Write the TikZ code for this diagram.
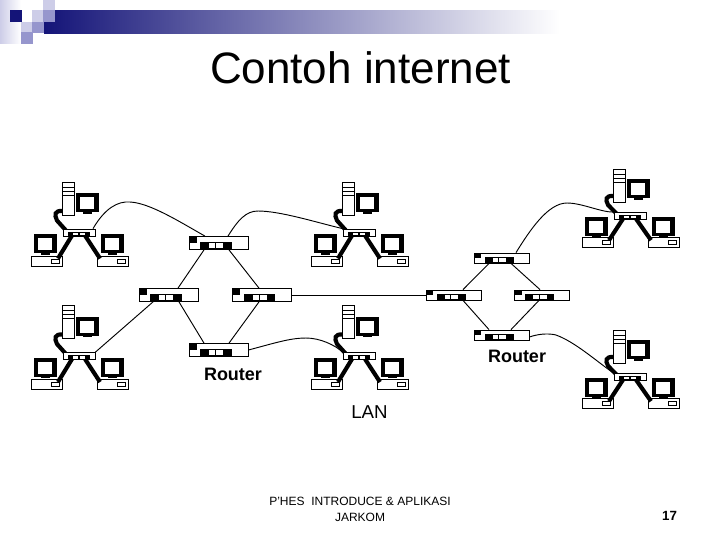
\documentclass[tikz,border=0pt]{standalone}
\usepackage{fontspec}
\setmainfont{Liberation Sans}
\usetikzlibrary{positioning}
\definecolor{barnavy}{RGB}{20,20,120}
\definecolor{barmid}{RGB}{160,160,188}
\definecolor{lavlight}{RGB}{205,205,232}
\definecolor{lavmid}{RGB}{150,150,205}
\tikzset{
routernode/.style={draw, fill=white, rectangle, inner sep=0pt, line width=.6pt},
hubnode/.style={draw, fill=white, rectangle, inner sep=0pt, line width=.6pt, minimum width=24pt, minimum height=5.2pt},
wire/.style={line width=.7pt},
cable/.style={line width=3.1pt},
monitor/.pic={
  \fill (0,0) rectangle (23,19);
  \fill[white] (4,4) rectangle (18,16);
  \fill (7,19) rectangle (16,20.5);
},
tower/.pic={
  \draw[line width=.7pt, fill=white] (0,0) rectangle (12,33);
  \draw[line width=.5pt] (0,5) -- (12,5);
  \draw[line width=.5pt] (0,9) -- (12,9);
  \draw[line width=.5pt] (0,13) -- (12,13);
},
pcbase/.pic={
  \draw[line width=.6pt, fill=white] (0,0) rectangle (31,10);
  \draw[line width=.6pt] (20,3) rectangle (28,7);
}
}
\newcommand{\routerbox}[5]{
  \node[routernode, minimum width=#4*.75pt, minimum height=#5*.75pt] (#1) at (#2,#3) {};
  \fill (#1.north west) rectangle ++(.14*#4,.55*#5);
  \fill ([shift={(.2*#4,.46*#5)}]#1.north west) rectangle ++(.53*#4,.54*#5);
  \fill[white] ([shift={(.35*#4,.56*#5)}]#1.north west) rectangle ++(.1*#4,.34*#5);
  \fill[white] ([shift={(.47*#4,.56*#5)}]#1.north west) rectangle ++(.12*#4,.34*#5);
}
\newcommand{\lancluster}[4]{
  \begin{scope}[shift={(#2,#3)}, yscale=#4]
  \pic at (-17,-50.5) {tower};
  \pic at (-3,-39.5) {monitor};
  \pic at (-45,1.5) {monitor};
  \pic at (22,1.5) {monitor};
  \pic at (-48,23.5) {pcbase};
  \pic at (18,23.5) {pcbase};
  \draw[cable] (-17,-21.5) .. controls (-24,-22) and (-25,-18) .. (-22,-12) -- (-13,-2);
  \draw[cable] (-7,3) -- (-21,26);
  \draw[cable] (6,3) -- (21,26);
  \node[hubnode] (#1) at (0,0) {};
  \fill (-11,-1) rectangle (11,3.5);
  \fill[white] (-6,0) rectangle (-1,2.5);
  \fill[white] (1,0) rectangle (6,2.5);
  \end{scope}
}
\begin{document}
\begin{tikzpicture}[x=.75pt, y=-.75pt]
\useasboundingbox (0,0) rectangle (720,540);
%banner
\fill[left color=barnavy, middle color=barmid, right color=white] (44,10) rectangle (560,33);
\fill[left color=lavlight, right color=white] (0,0) rectangle (21,43);
\fill[lavlight] (43,0) rectangle (55,10);
\fill[barnavy] (10,10) rectangle (22,22);
\fill[lavlight] (32,10) rectangle (43,22);
\fill[lavmid] (43,10) rectangle (55,22);
\fill[lavlight] (21,22) rectangle (32,32);
\fill[lavmid] (32,22) rectangle (44,33);
\fill[lavmid] (21,32) rectangle (33,44);
%create nodes
\node[anchor=base] (title) at (360.5,83) {\fontsize{33}{40}\selectfont Contoh internet};
\foreach \name/\x/\y/\w/\h in {r1/218.5/243/59/13, r2/168.5/295/59/13, r3/262/295/59/13, r4/218.5/350/59/13,
  r5/501.5/258/55/10, r6/453.5/295/55/10, r7/542/295/55/10, r8/501.5/335/55/10}
  \routerbox{\name}{\x}{\y}{\w}{\h};
\foreach \name/\x/\y/\s in {c1/79/232.5/1, c2/359/232.5/1, c3/79/356/1, c4/359/356/1, c5/630/216/.93, c6/630/377/.93}
  \lancluster{\name}{\x}{\y}{\s};
\node (routerl) at (233,374) {\fontsize{13.5}{16}\selectfont\bfseries Router};
\node (routerr) at (517,356) {\fontsize{13.5}{16}\selectfont\bfseries Router};
\node (lan) at (369.5,412) {\fontsize{14}{17}\selectfont LAN};
\node[align=center] (footer) at (360,509.5) {\fontsize{9}{12}\selectfont P'HES~~INTRODUCE \& APLIKASI\\[-.3pt]\fontsize{9}{12}\selectfont JARKOM};
\node (page) at (669.5,516) {\fontsize{10}{12}\selectfont\bfseries 17};
%draw paths
\draw[wire] ([shift={(-14.5,0)}]r1.south) -- ([shift={(9.5,0)}]r2.north);
\draw[wire] ([shift={(10.5,0)}]r1.south) -- ([shift={(-3,0)}]r3.north);
\draw[wire] ([shift={(10.5,0)}]r2.south) -- ([shift={(-14.5,0)}]r4.north);
\draw[wire] ([shift={(-3,0)}]r3.south) -- ([shift={(10.5,0)}]r4.north);
\draw[wire] ([shift={(-12.5,0)}]r5.south) -- ([shift={(9.5,0)}]r6.north);
\draw[wire] ([shift={(9.5,0)}]r5.south) -- ([shift={(-2,0)}]r7.north);
\draw[wire] ([shift={(9.5,0)}]r6.south) -- ([shift={(-12.5,0)}]r8.north);
\draw[wire] ([shift={(-3,0)}]r7.south) -- ([shift={(9.5,0)}]r8.north);
\draw[wire] (r3.east) -- (r6.west);
\draw[wire] ([shift={(-15.5,0)}]r2.south) -- (c3.north east);

\draw[wire] ([shift={(14,0)}]c1.north) .. controls (105,208) and (118,201) .. (130,202)
  .. controls (150,203) and (180,222) .. ([shift={(-13.5,0)}]r1.north);
\draw[wire] ([shift={(9.5,0)}]r1.north) .. controls (238,220) and (246,211) .. (258,211)
  .. controls (280,211) and (315,222) .. (c2.north west);
\draw[wire] (r4.east) .. controls (275,343) and (290,338) .. (306,338)
  .. controls (320,338) and (335,345) .. (c4.north west);
\draw[wire] ([shift={(14.5,0)}]r5.north) .. controls (530,230) and (548,203) .. (567,203)
  .. controls (582,203) and (600,212) .. (c5.north west);
\draw[wire] ([shift={(0,2)}]r8.east) .. controls (538,334) and (548,333) .. (556,335)
  .. controls (575,342) and (595,360) .. (c6.north west);
\end{tikzpicture}
\end{document}
